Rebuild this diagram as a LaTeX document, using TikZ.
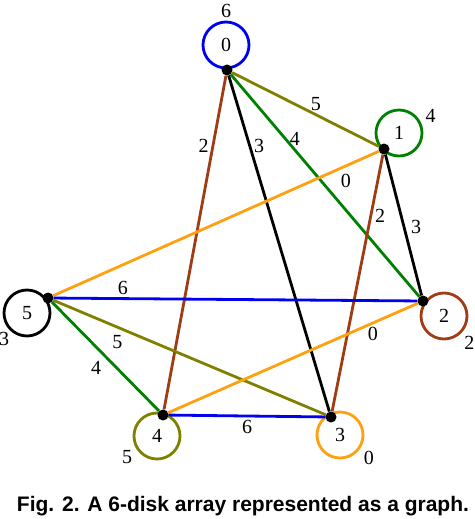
\documentclass[tikz,border=0pt]{standalone}
\usepackage{fontspec}
\setmainfont{Liberation Serif}
\newfontfamily\capfont{Liberation Sans}
\newfontfamily\numfont{Liberation Serif}
\usetikzlibrary{positioning}
\definecolor{wzero}{HTML}{FFA010}
\definecolor{wtwo}{HTML}{A03C14}
\definecolor{wthree}{HTML}{000000}
\definecolor{wfour}{HTML}{008000}
\definecolor{wfive}{HTML}{808000}
\definecolor{wsix}{HTML}{0000F0}

\begin{document}
\begin{tikzpicture}
   [x=1pt,y=-1pt,
      vertex/.style={shape=circle,fill=black,inner sep=0pt,minimum
      size=11pt},
ring/.style={shape=circle,draw,line width=2.8pt,inner sep=0pt,
minimum size=46pt,font=\numfont\fontsize{20}{24}\selectfont},
lbl/.style={font=\numfont\fontsize{20}{24}\selectfont,inner sep=3pt},
link/.style={line width=2.8pt},
caption/.style={font=\capfont\bfseries\fontsize{21}{24}\selectfont,
anchor=base,inner sep=0pt}]
\useasboundingbox (0,0) rectangle (474,519);
%%
\newcommand{\xya}{(227,70)}
\newcommand{\xyb}{(384,149)}
\newcommand{\xyc}{(423,301)}
\newcommand{\xyd}{(331,417)}
\newcommand{\xye}{(163,415)}
\newcommand{\xyf}{(48,298)}
%%
\node (cap) [caption] at (243,511) {Fig. 2. A 6-disk array represented as a graph.};
%%
%% disks and their own weights
\node (r0) [ring,draw=wsix,label={[lbl]above:6}] at (226,45) {0};
\node (r1) [ring,draw=wfour,label={[lbl]17:4}] at (399,133) {1};
\node (r2) [ring,draw=wtwo,label={[lbl]-45:2}] at (444,316) {2};
\node (r3) [ring,draw=wzero,label={[lbl]-32:0}] at (340,435) {3};
\node (r4) [ring,draw=wfive,label={[lbl]-153:5}] at (157,436) {4};
\node (r5) [ring,draw=wthree,label={[lbl,xshift=4pt]220:3}] at (27,313) {5};
%%
\node (d0) [vertex] at \xya {};
\node (d1) [vertex] at \xyb {};
\node (d2) [vertex] at \xyc {};
\node (d3) [vertex] at \xyd {};
\node (d4) [vertex] at \xye {};
\node (d5) [vertex] at \xyf {};
%%
\draw[link,wfive] (d0) -- (d1) node [lbl,text=black,pos=.57,above] {5};
\draw[link,wfour] (d0) -- (d2) node [lbl,text=black,pos=.29,right] {4};
\draw[link,wthree] (d0) -- (d3) node [lbl,text=black,pos=.21,right] {3};
\draw[link,wtwo] (d0) -- (d4) node [lbl,text=black,pos=.21,left] {2};
\draw[link,wzero] (d1) -- (d5) node [lbl,text=black,pos=.13,below right] {0};
\draw[link,wtwo] (d1) -- (d3) node [lbl,text=black,pos=.24,right] {2};
\draw[link,wthree] (d1) -- (d2) node [lbl,text=black,pos=.59,above right] {3};
\draw[link,wsix] (d5) -- (d2) node [lbl,text=black,pos=.19,above] {6};
\draw[link,wfive] (d5) -- (d3) node [lbl,text=black,pos=.27,below left] {5};
\draw[link,wfour] (d5) -- (d4) node [lbl,text=black,pos=.5,below left] {4};
\draw[link,wzero] (d4) -- (d2) node [lbl,text=black,pos=.82,below] {0};
\draw[link,wsix] (d4) -- (d3) node [lbl,text=black,pos=.5,below] {6};
\end{tikzpicture}
\end{document}
